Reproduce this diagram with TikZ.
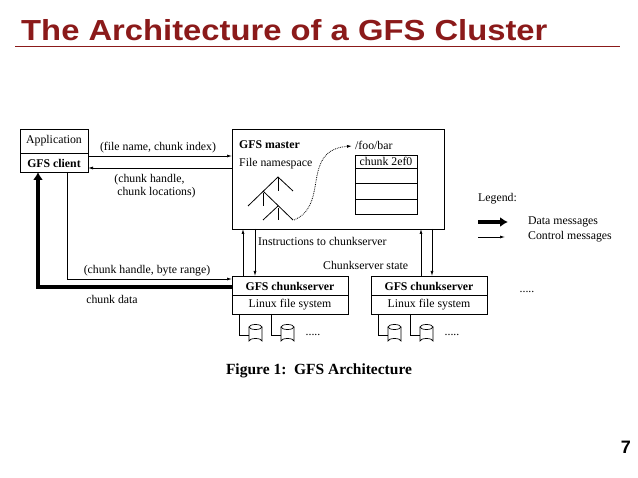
\documentclass[tikz,border=0pt]{standalone}
\usepackage{fontspec}
\setmainfont{Liberation Serif}
\newfontfamily\titlefont{Liberation Sans}
\usetikzlibrary{arrows.meta}
\definecolor{titlered}{HTML}{8B1A1A}
\begin{document}
\begin{tikzpicture}[x=1pt,y=-1pt,
  box/.style={draw,line width=0.8pt},
  txt/.style={font=\fontsize{11.8}{13}\selectfont,inner sep=0pt},
  btxt/.style={font=\fontsize{11.8}{13}\selectfont\bfseries,inner sep=0pt},
  ctl/.style={line width=0.7pt,-{Latex[length=5pt,width=3pt]}},
  dat/.style={line width=4pt,-{Latex[length=8pt,width=10pt]}}]
\useasboundingbox (0,0) rectangle (638,478);
\node[anchor=west,text=titlered,font=\titlefont\bfseries\fontsize{29}{32}\selectfont,inner sep=0pt,xscale=1.13] (title) at (21,30) {The Architecture of a GFS Cluster};
\draw[titlered,line width=1pt] (15,47) coordinate (u1) -- (620,47) coordinate (u2);
% client
\draw[box] (20,129) rectangle (88,172);
\draw[box] (20,153) -- (88,153);
\node[txt] (app) at (54,141) {Application};
\node[btxt] (client) at (54,163) {GFS client};
\coordinate (cl) at (88,156); \coordinate (cl2) at (88,168);
% master
\draw[box] (232,129) rectangle (444,229);
\node[btxt,anchor=west] (mt) at (239,145) {GFS master};
\node[txt,anchor=west] (fn) at (239,164) {File namespace};
\node[txt,anchor=west] (foo) at (355,145) {/foo/bar};
\draw[box] (355,155) rectangle (417,214);
\foreach \y in {168,183,199} \draw[line width=0.8pt] (355,\y) -- (417,\y);
\node[txt] (c2) at (386,161.5) {chunk 2ef0};
% tree
\draw[line width=0.8pt] (293,191) -- (278,177) -- (248,206);
\draw[line width=0.8pt] (278,178) -- (278,191);
\draw[line width=0.8pt] (263,191) -- (293,220);
\draw[line width=0.8pt] (263,193) -- (263,206);
\draw[line width=0.8pt] (278,206) -- (263,220);
\draw[line width=0.8pt] (278,208) -- (278,220);
\draw[densely dotted,line width=0.8pt,-{Latex[length=5pt,width=3pt]}] (294,220) .. controls (330,205) and (300,150) .. (352,146);
% chunkservers
\draw[box] (232,276) rectangle (348,314); \draw[box] (232,295) -- (348,295);
\node[btxt] (cs1) at (290,286) {GFS chunkserver};
\node[txt] (lf1) at (290,305) {Linux file system};
\draw[box] (371,276) rectangle (487,314); \draw[box] (371,295) -- (487,295);
\node[btxt] (cs2) at (429,286) {GFS chunkserver};
\node[txt] (lf2) at (429,305) {Linux file system};
% disks
\foreach \o in {0,139}{
  \foreach \d in {0,32}{
    \draw[line width=0.7pt] (239+\o+\d,314) -- (239+\o+\d,335) -- (249+\o+\d,335);
    \draw[line width=0.7pt] (249+\o+\d,327) -- (249+\o+\d,341) arc[start angle=180,end angle=360,x radius=6.5,y radius=2.5] -- (262+\o+\d,327);
    \draw[line width=0.7pt] (255.5+\o+\d,327) ellipse[x radius=6.5,y radius=2.5];
  }
  \node[txt] at (313+\o,335) {.....};
}
\node[txt] (dots3) at (527,292) {.....};
% client-master
\draw[ctl] (cl) -- (232,156);
\node[txt] (l1) at (158,148) {(file name, chunk index)};
\draw[ctl] (232,168) -- (cl2);
\node[txt,align=left] (l2) at (155,186) {(chunk handle,\\\ chunk locations)};
% client-chunkserver
\draw[ctl] (67,172) -- (67,279) -- (232,279);
\node[txt] (l3) at (147,271) {(chunk handle, byte range)};
\draw[line width=4pt] (232,287) -- (38,287) -- (38,182);
\draw[dat] (38,190) -- (38,172);
\node[txt] (l4) at (112,299) {chunk data};
% master-chunkserver
\draw[ctl] (243,276) -- (243,229);
\draw[ctl] (255,229) -- (255,276);
\node[txt,anchor=west] (ins) at (258,241) {Instructions to chunkserver};
\draw[ctl] (421,276) -- (421,229);
\draw[ctl] (432,229) -- (432,276);
\node[txt,anchor=west] (cst) at (323,265) {Chunkserver state};
% legend
\node[txt,anchor=west] (leg) at (478,199) {Legend:};
\draw[dat] (478,222) -- (508,222);
\node[txt,anchor=west] (dm) at (528,222) {Data messages};
\draw[ctl] (478,237) -- (505,237);
\node[txt,anchor=west] (cm) at (528,237) {Control messages};
% caption
\node[font=\fontsize{15.5}{18}\selectfont\bfseries,inner sep=0pt] (cap) at (319,371) {Figure 1:\ \ GFS Architecture};
\node[inner sep=0pt,font=\titlefont\bfseries\fontsize{18}{20}\selectfont] (pg) at (626,447) {7};
\end{tikzpicture}
\end{document}
